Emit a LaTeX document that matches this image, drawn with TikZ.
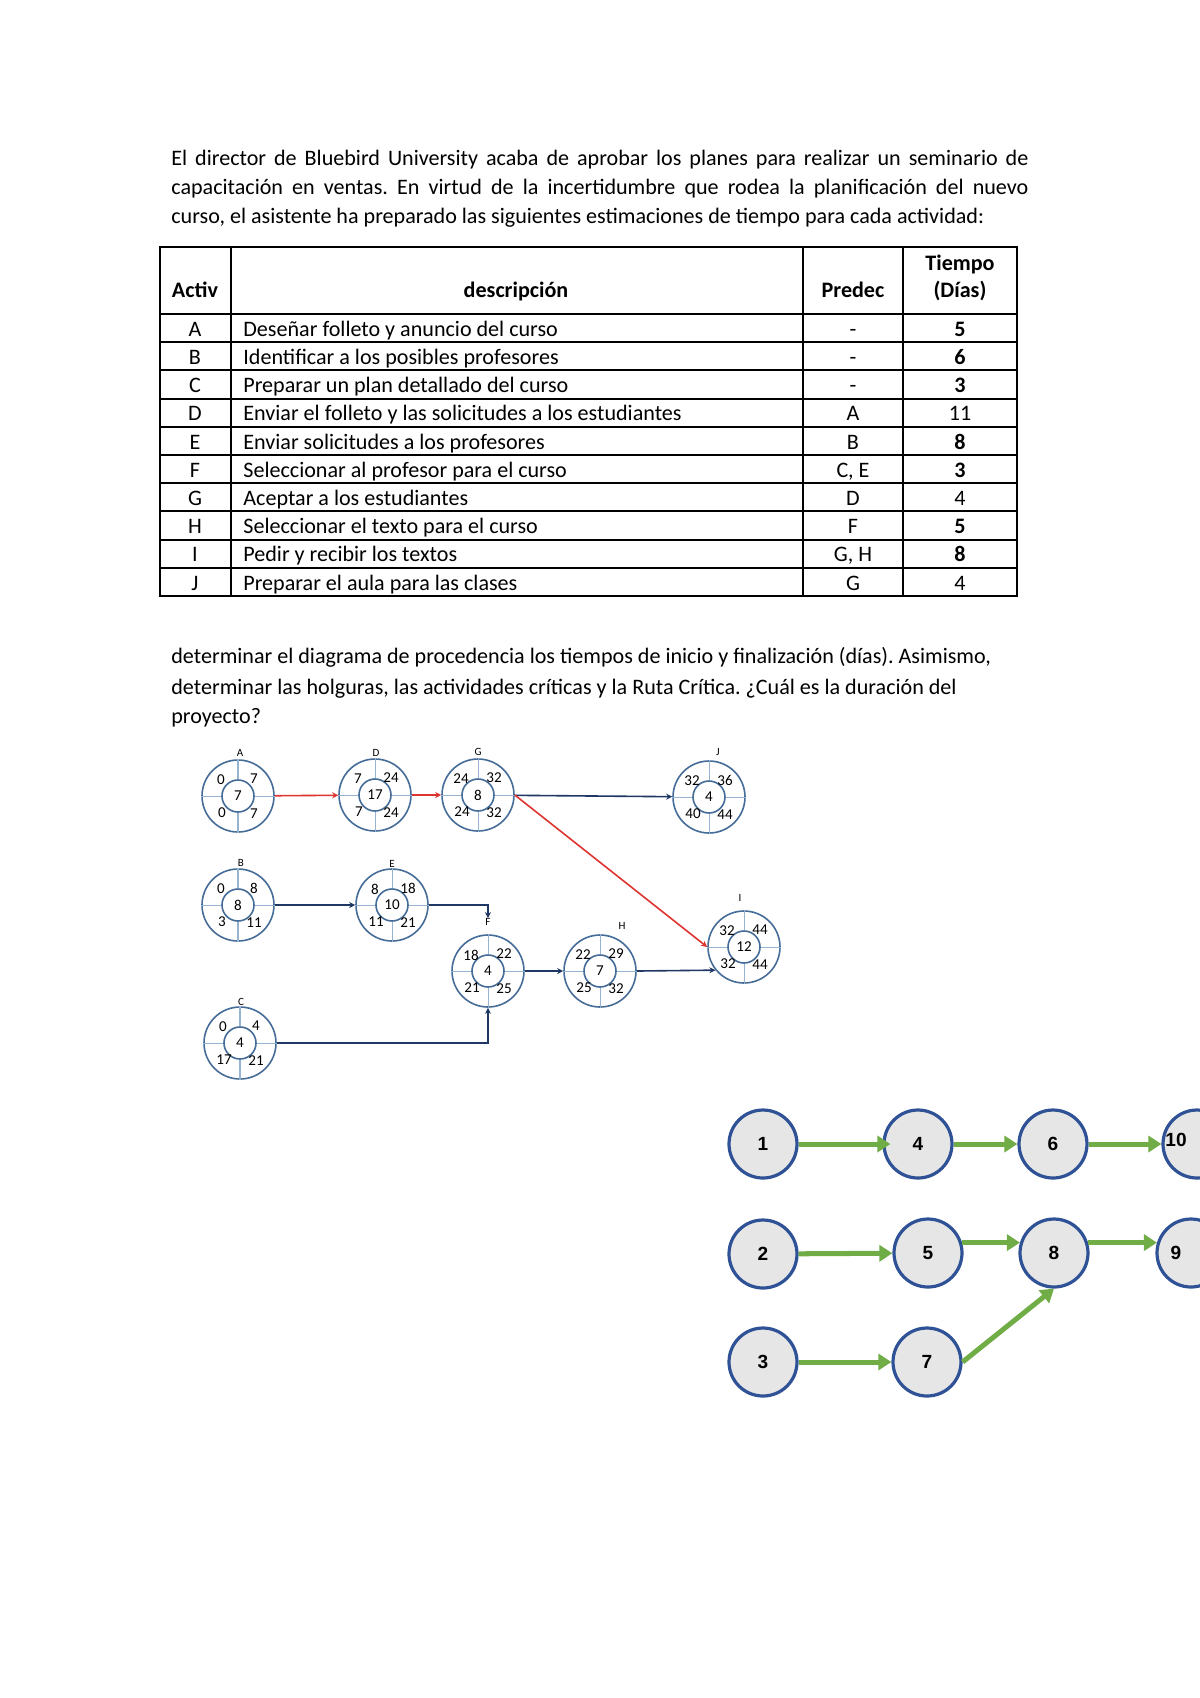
\documentclass[tikz,border=0pt]{standalone}
\usepackage{fontspec}
\setmainfont{Carlito}
\newfontfamily\arialfont{Liberation Sans}
\usetikzlibrary{arrows.meta}
\frenchspacing

\definecolor{actblue}{RGB}{70,108,152}
\definecolor{crossblue}{RGB}{150,180,210}
\definecolor{critred}{RGB}{222,52,48}
\definecolor{navyline}{RGB}{30,55,100}
\definecolor{evtblue}{RGB}{47,82,150}
\definecolor{evtgray}{RGB}{230,230,230}
\definecolor{evtgreen}{RGB}{112,173,71}

\tikzset{
  txt/.style={anchor=base west, inner sep=0pt, font=\fontsize{11}{13}\selectfont},
  cell/.style={anchor=base, inner sep=0pt, font=\fontsize{11}{13}\selectfont},
  head/.style={cell, font=\fontsize{11}{13}\selectfont\bfseries},
  act/.style={circle, draw=actblue, line width=0.8pt, minimum size=1.26cm, inner sep=0pt},
  actin/.style={circle, draw=actblue, line width=0.8pt, minimum size=0.56cm, inner sep=0pt, font=\fontsize{7.5}{8}\selectfont},
  cross/.style={draw=crossblue, line width=0.5pt},
  num/.style={inner sep=0pt, font=\fontsize{7.5}{8}\selectfont},
  lbl/.style={inner sep=0pt, font=\fontsize{5.5}{6}\selectfont},
  crit/.style={draw=critred, line width=0.8pt, -{Stealth[length=3pt,width=3pt]}},
  link/.style={draw=navyline, line width=0.8pt, -{Stealth[length=3pt,width=3pt]}},
  evt/.style={circle, draw=evtblue, line width=1.6pt, fill=evtgray, minimum size=1.19cm, inner sep=0pt, font=\arialfont\bfseries\fontsize{9.5}{10}\selectfont},
  evtnum/.style={inner sep=0pt, font=\arialfont\bfseries\fontsize{9.5}{10}\selectfont},
  go/.style={draw=evtgreen, line width=2.5pt, -{Triangle[length=6.5pt,width=8pt]}},
}

% activity node: name, position, ES, EF, duration, LS, LF
\newcommand{\aon}[7]{%
  \node[act] (#1) at (#2) {};
  \node[actin] (#1-in) at (#1) {#5};
  \draw[cross] (#1.north) -- (#1-in.north);
  \draw[cross] (#1.south) -- (#1-in.south);
  \draw[cross] (#1.west) -- (#1-in.west);
  \draw[cross] (#1.east) -- (#1-in.east);
  \node[num] (#1-es) at ([shift={(-17,-16)}]#1.center) {#3};
  \node[num] (#1-ef) at ([shift={(16,-17)}]#1.center) {#4};
  \node[num] (#1-ls) at ([shift={(-16,17)}]#1.center) {#6};
  \node[num] (#1-lf) at ([shift={(16,18)}]#1.center) {#7};
}

\begin{document}
\begin{tikzpicture}[x=0.0175cm, y=-0.0175cm]
  \useasboundingbox (0,0) rectangle (1200,1698);

  % text
  \node[txt] (p1) at (171,165) {\makebox[15cm][s]{El director de Bluebird University acaba de aprobar los planes para realizar un seminario de}};
  \node[txt] (p2) at (171,194) {\makebox[15cm][s]{capacitación en ventas. En virtud de la incertidumbre que rodea la planificación del nuevo}};
  \node[txt] (p3) at (171,223) {curso, el asistente ha preparado las siguientes estimaciones de tiempo para cada actividad:};

  % table
  \draw[line width=1pt] (160,247) rectangle (1017,596);
  \foreach \i in {0,...,9}
    \draw[line width=1pt] (160,{314+28.2*\i}) -- (1017,{314+28.2*\i});
  \foreach \xx in {230.7,802.5,903.2}
    \draw[line width=1pt] (\xx,247) -- (\xx,596);
  \node[head] (hA) at (195,297) {Activ};
  \node[head] (hD) at (516,297) {descripción};
  \node[head] (hP) at (853,297) {Predec};
  \node[head] (hT1) at (960,270) {Tiempo};
  \node[head] (hT2) at (960,297) {(Días)};
  \foreach \a/\d/\p/\t [count=\i] in {A/Deseñar folleto y anuncio del curso/-/\textbf{5},
      B/Identificar a los posibles profesores/-/\textbf{6},
      C/Preparar un plan detallado del curso/-/\textbf{3},
      D/Enviar el folleto y las solicitudes a los estudiantes/A/11,
      E/Enviar solicitudes a los profesores/B/\textbf{8},
      F/Seleccionar al profesor para el curso/{C, E}/\textbf{3},
      G/Aceptar a los estudiantes/D/4,
      H/Seleccionar el texto para el curso/F/\textbf{5},
      I/Pedir y recibir los textos/{G, H}/\textbf{8},
      J/Preparar el aula para las clases/G/4}{
    \node[cell] (a\i) at (195,{314+28.2*\i-6}) {\a};
    \node[cell, anchor=base west] (d\i) at (243,{314+28.2*\i-6}) {\d};
    \node[cell] (p\i) at (853,{314+28.2*\i-6}) {\p};
    \node[cell] (t\i) at (960,{314+28.2*\i-6}) {\t};
  }

  \node[txt] (q1) at (171,663) {determinar el diagrama de procedencia los tiempos de inicio y finalización (días). Asimismo,};
  \node[txt] (q2) at (171,694) {determinar las holguras, las actividades críticas y la Ruta Crítica. ¿Cuál es la duración del};
  \node[txt] (q3) at (171,723) {proyecto?};

  % precedence diagram
  \aon{nA}{238,796}{0}{7}{7}{0}{7}
  \aon{nD}{375,795}{7}{24}{17}{7}{24}
  \aon{nG}{478,795}{24}{32}{8}{24}{32}
  \aon{nJ}{709,797}{32}{36}{4}{40}{44}
  \aon{nB}{238,905}{0}{8}{8}{3}{11}
  \aon{nE}{392,905}{8}{18}{10}{11}{21}
  \aon{nF}{488,971}{18}{22}{4}{21}{25}
  \aon{nH}{600,971}{22}{29}{7}{25}{32}
  \aon{nI}{744,947}{32}{44}{12}{32}{44}
  \aon{nC}{240,1043}{0}{4}{4}{17}{21}
  \node[lbl] (lA) at (240,753) {A};
  \node[lbl] (lD) at (376,753) {D};
  \node[lbl] (lG) at (478,752) {G};
  \node[lbl] (lJ) at (718,752) {J};
  \node[lbl] (lB) at (241,863) {B};
  \node[lbl] (lE) at (392,864) {E};
  \node[lbl] (lF) at (488,922) {F};
  \node[lbl] (lH) at (622,926) {H};
  \node[lbl] (lI) at (740,898) {I};
  \node[lbl] (lC) at (241,1002) {C};

  \draw[crit] (nA) -- (nD);
  \draw[crit] (nD) -- (nG);
  \draw[link] (nG) -- (nJ);
  \draw[crit] (nG.east) -- (nI.west);
  \draw[link] (nB) -- (nE);
  \draw[link] (nE.east) -| (lF.north);
  \draw[link] (nC.east) -| (nF.south);
  \draw[link] (nF) -- (nH);
  \draw[link] (nH.east) -- (nI.219);

  % event network
  \node[evt] (n1) at (763,1144) {1};
  \node[evt] (n4) at (918,1144) {4};
  \node[evt] (n6) at (1053,1144) {6};
  \node[evt] (n10) at (1197,1144) {};
  \node[evt] (n2) at (763,1254) {2};
  \node[evt] (n5) at (928,1253) {5};
  \node[evt] (n8) at (1054,1253) {8};
  \node[evt] (n9) at (1191,1253) {};
  \node[evt] (n3) at (763,1362) {3};
  \node[evt] (n7) at (927,1362) {7};
  \node[evtnum] (t10) at (1176,1140) {10};
  \node[evtnum] (t9) at (1176,1253) {9};

  \draw[go, shorten >=-4pt] (n1) -- (n4);
  \draw[go] (n4) -- (n6);
  \draw[go] (n6) -- (n10);
  \draw[go] (n2) -- (n5);
  \draw[go] (n5.17) -- (n8.163);
  \draw[go] (n8.17) -- (n9.163);
  \draw[go] (n3) -- (n7);
  \draw[go] (n7.east) -- (n8.south);
\end{tikzpicture}
\end{document}
